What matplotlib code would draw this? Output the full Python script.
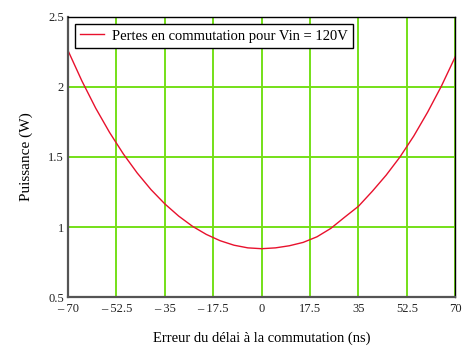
import matplotlib
matplotlib.use('Agg')
import matplotlib.pyplot as plt

# Valeurs (erreur de délai en ns, puissance en W)
delai = [-70, -65, -60, -55, -50, -45, -40, -35, -30, -25, -20, -15, -10, -5,
         0, 5, 10, 15, 20, 25, 30, 35, 40, 45, 50, 55, 60, 65, 70]
puissance = [2.26, 2.044, 1.849, 1.676, 1.522, 1.386, 1.267, 1.165, 1.078, 1.005,
             0.947, 0.902, 0.870, 0.851, 0.845, 0.851, 0.866, 0.89, 0.93, 0.99,
             1.07, 1.148, 1.255, 1.37, 1.50, 1.65, 1.82, 2.007, 2.216]

xticks = [-70, -52.5, -35, -17.5, 0, 17.5, 35, 52.5, 70]
xlabels = ['\u2013 70', '\u2013 52.5', '\u2013 35', '\u2013 17.5', '0', '17.5', '35', '52.5', '70']
yticks = [0.5, 1, 1.5, 2, 2.5]
ylabels = ['0.5', '1', '1.5', '2', '2.5']

plt.rcParams['font.family'] = 'Liberation Serif'

fig = plt.figure(figsize=(4.74, 3.54), dpi=100)
ax = fig.add_axes([0.1435, 0.161, 0.817, 0.791])

ax.plot(delai, puissance, color='#e8112d', lw=1.0,
        label='Pertes en commutation pour Vin = 120V')

ax.set_xlim(-70, 70)
ax.set_ylim(0.5, 2.5)
ax.set_xticks(xticks)
ax.set_xticklabels(xlabels)
ax.set_yticks(yticks)
ax.set_yticklabels(ylabels)
ax.tick_params(length=0, labelsize=9, colors='#222222', pad=3)
ax.tick_params(axis='x', pad=4)

ax.grid(True, color='#74e018', lw=1.4)
ax.set_axisbelow(True)

for s in ['left', 'bottom']:
    ax.spines[s].set_color('#555555')
    ax.spines[s].set_linewidth(1.6)
for s in ['top', 'right']:
    ax.spines[s].set_color('black')
    ax.spines[s].set_linewidth(1.0)

ax.set_xlabel('Erreur du délai à la commutation (ns)', fontsize=10.5, labelpad=12)
ax.set_ylabel('Puissance (W)', fontsize=11, labelpad=11)

leg = ax.legend(loc='upper left', fontsize=10.5, fancybox=False, framealpha=1,
                edgecolor='black', borderpad=0.35, handlelength=1.6,
                handletextpad=0.6, borderaxespad=0.5)
leg.get_frame().set_linewidth(1.0)

fig.savefig('out.png', dpi=100)
